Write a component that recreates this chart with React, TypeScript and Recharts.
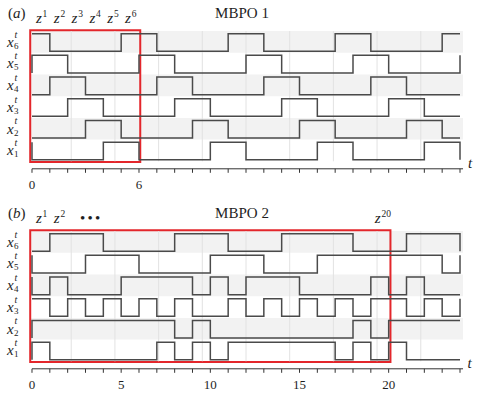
import React from "react";
import { ComposedChart, Line, XAxis, YAxis, ReferenceArea, ReferenceLine } from "recharts";

// every panel: value just before t=0, then the value on [t, t+1) for t = 0..23, then the value at t = 24
const X6_A = [1, 1, 0, 0, 0, 0, 1, 1, 0, 0, 0, 0, 1, 1, 0, 0, 0, 0, 1, 1, 0, 0, 0, 0, 1, 1];
const X5_A = [0, 1, 1, 0, 0, 0, 0, 1, 1, 0, 0, 0, 0, 1, 1, 0, 0, 0, 0, 1, 1, 0, 0, 0, 0, 1];
const X4_A = [0, 0, 1, 1, 0, 0, 0, 0, 1, 1, 0, 0, 0, 0, 1, 1, 0, 0, 0, 0, 1, 1, 0, 0, 0, 0];
const X3_A = [0, 0, 0, 1, 1, 0, 0, 0, 0, 1, 1, 0, 0, 0, 0, 1, 1, 0, 0, 0, 0, 1, 1, 0, 0, 0];
const X2_A = [0, 0, 0, 0, 1, 1, 0, 0, 0, 0, 1, 1, 0, 0, 0, 0, 1, 1, 0, 0, 0, 0, 1, 1, 0, 0];
const X1_A = [1, 0, 0, 0, 0, 1, 1, 0, 0, 0, 0, 1, 1, 0, 0, 0, 0, 1, 1, 0, 0, 0, 0, 1, 1, 0];

const X6_B = [0, 0, 1, 1, 1, 0, 0, 0, 0, 1, 1, 1, 0, 0, 0, 1, 1, 1, 1, 0, 0, 0, 1, 1, 1, 0];
const X5_B = [1, 0, 0, 0, 1, 1, 1, 0, 0, 0, 0, 1, 1, 1, 0, 0, 0, 1, 1, 1, 1, 1, 1, 1, 0, 1];
const X4_B = [1, 0, 1, 0, 0, 0, 1, 1, 1, 1, 0, 1, 0, 1, 1, 1, 0, 0, 0, 0, 1, 0, 1, 0, 0, 0];
const X3_B = [1, 1, 0, 1, 0, 1, 0, 1, 0, 1, 0, 0, 1, 0, 1, 0, 1, 0, 1, 0, 1, 1, 0, 1, 0, 1];
const X2_B = [0, 1, 1, 1, 1, 1, 1, 1, 1, 0, 1, 0, 0, 0, 0, 0, 0, 0, 0, 1, 0, 1, 1, 1, 1, 1];
const X1_B = [0, 1, 0, 0, 0, 0, 0, 0, 1, 0, 1, 0, 1, 1, 1, 1, 1, 1, 0, 1, 0, 1, 0, 0, 0, 0];

const TICKS = [0, 1, 2, 3, 4, 5, 6, 7, 8, 9, 10, 11, 12, 13, 14, 15, 16, 17, 18, 19, 20, 21, 22, 23, 24];
const LABELS_A = [0, 6];
const LABELS_B = [0, 5, 10, 15, 20];
const Z_A = ["1", "2", "3", "4", "5", "6"];
const Z_B = ["1", "2", "•••", "20"];
const Z_B_AT = [1, 2, 3.53, 20];
const BOX_A = 6.07;
const BOX_B = 20.1;

const GRID_X = [2.2, 4.65, 7.1, 9.55, 12, 14.45, 16.9, 19.35, 21.8];
const DOMAIN_X: [number, number] = [-0.25, 24.25];
const DOMAIN_Y: [number, number] = [-0.345, 6.07];
const HI = 0.88;
const LO = 0.07;
const SERIF = "'Liberation Serif', 'DejaVu Serif', serif";
const INK = "#1e1e1e";

const toPoints = (sig: number[], row: number) =>
  sig.map((b, i) => ({ t: i === 0 ? 0 : i - 1, v: row + (b ? HI : LO) }));

function RowLabel(props: any) {
  const { y, payload } = props;
  const row = Math.round(payload.value - 0.5) + 1;
  return (
    <g fontFamily={SERIF} fill={INK}>
      <text x={7} y={y + 4.8} fontSize={15} fontStyle="italic">x</text>
      <text x={14} y={y + 6.8} fontSize={9}>{row}</text>
      <text x={14.4} y={y - 4.3} fontSize={10} fontStyle="italic">t</text>
    </g>
  );
}

function ZLabel(props: any) {
  const { x, index, labels } = props;
  const lab = labels[index];
  if (lab === "•••") {
    return (
      <text x={x - 1} y={22.5} fontSize={15} letterSpacing={2.2} fill={INK} fontFamily={SERIF}>
        •••
      </text>
    );
  }
  return (
    <text x={x} y={22.5} fontFamily={SERIF} fill={INK}>
      <tspan fontSize={15} fontStyle="italic">z</tspan>
      <tspan fontSize={9.5} dy={-5.4} dx={0.8}>{lab}</tspan>
    </text>
  );
}

function Panel({ signals, zAt, zLabels, labels, box }: any) {
  return (
    <ComposedChart width={479} height={196} margin={{ top: 0, right: 14.54, bottom: 0.2, left: 0 }}>
      <XAxis
        dataKey="t"
        type="number"
        domain={DOMAIN_X}
        allowDataOverflow
        ticks={TICKS}
        interval={0}
        axisLine={false}
        tickLine={{ stroke: "#333" }}
        tickSize={4}
        tickMargin={7}
        height={27}
        tick={{ fontSize: 13, fill: INK, fontFamily: SERIF }}
        tickFormatter={(v: number) => (labels.includes(v) ? String(v) : "")}
      />
      <XAxis
        xAxisId="z"
        orientation="top"
        dataKey="t"
        type="number"
        domain={DOMAIN_X}
        allowDataOverflow
        ticks={zAt.map((k: number) => k - 0.78)}
        interval={0}
        axisLine={false}
        tickLine={false}
        height={29.5}
        tick={(p: any) => <ZLabel {...p} labels={zLabels} />}
      />
      <YAxis
        type="number"
        domain={DOMAIN_Y}
        allowDataOverflow
        ticks={[0.5, 1.5, 2.5, 3.5, 4.5, 5.5]}
        interval={0}
        axisLine={false}
        tickLine={false}
        width={27.54}
        tick={(p: any) => <RowLabel {...p} />}
      />
      {[1, 3, 5].map((r) => (
        <ReferenceArea key={r} x1={-0.12} x2={24.17} y1={r} y2={r + 1} fill="#f2f2f2" fillOpacity={1} stroke="none" />
      ))}
      {GRID_X.map((g) => (
        <ReferenceLine key={g} segment={[{ x: g, y: 0 }, { x: g, y: 6 }]} stroke="#e2e2e2" strokeWidth={1} />
      ))}
      {signals.map((s: number[], i: number) => (
        <Line
          key={i}
          data={toPoints(s, 5 - i)}
          dataKey="v"
          type="stepAfter"
          stroke="#4a4a4a"
          strokeWidth={1.5}
          dot={false}
          isAnimationActive={false}
        />
      ))}
      <ReferenceArea x1={-0.1} x2={box} y1={-0.03} y2={6.04} fill="none" stroke="#e3262b" strokeWidth={2} />
      <ReferenceLine segment={[{ x: 0, y: DOMAIN_Y[0] }, { x: 24.17, y: DOMAIN_Y[0] }]} stroke="#333" strokeWidth={1} />
    </ComposedChart>
  );
}

export default function App() {
  return (
    <div style={{ position: "absolute", left: 0, top: 0, width: 479, height: 396, background: "#fff" }}>
      <div style={{ position: "absolute", left: 0, top: 0 }}>
        <Panel
          signals={[X6_A, X5_A, X4_A, X3_A, X2_A, X1_A]}
          zAt={[1, 2, 3, 4, 5, 6]}
          zLabels={Z_A}
          labels={LABELS_A}
          box={BOX_A}
        />
      </div>
      <div style={{ position: "absolute", left: 0, top: 200 }}>
        <Panel
          signals={[X6_B, X5_B, X4_B, X3_B, X2_B, X1_B]}
          zAt={Z_B_AT}
          zLabels={Z_B}
          labels={LABELS_B}
          box={BOX_B}
        />
      </div>
      <svg width={479} height={396} style={{ position: "absolute", left: 0, top: 0, pointerEvents: "none" }}>
        <g fontFamily={SERIF} fill={INK} fontSize={15}>
          <text x={8} y={17.5}>(<tspan fontStyle="italic">a</tspan>)</text>
          <text x={242} y={18.3} textAnchor="middle">MBPO 1</text>
          <text x={468} y={168} fontStyle="italic">t</text>
          <text x={8} y={217.5}>(<tspan fontStyle="italic">b</tspan>)</text>
          <text x={242} y={218.3} textAnchor="middle">MBPO 2</text>
          <text x={467.5} y={368} fontStyle="italic">t</text>
        </g>
      </svg>
    </div>
  );
}
